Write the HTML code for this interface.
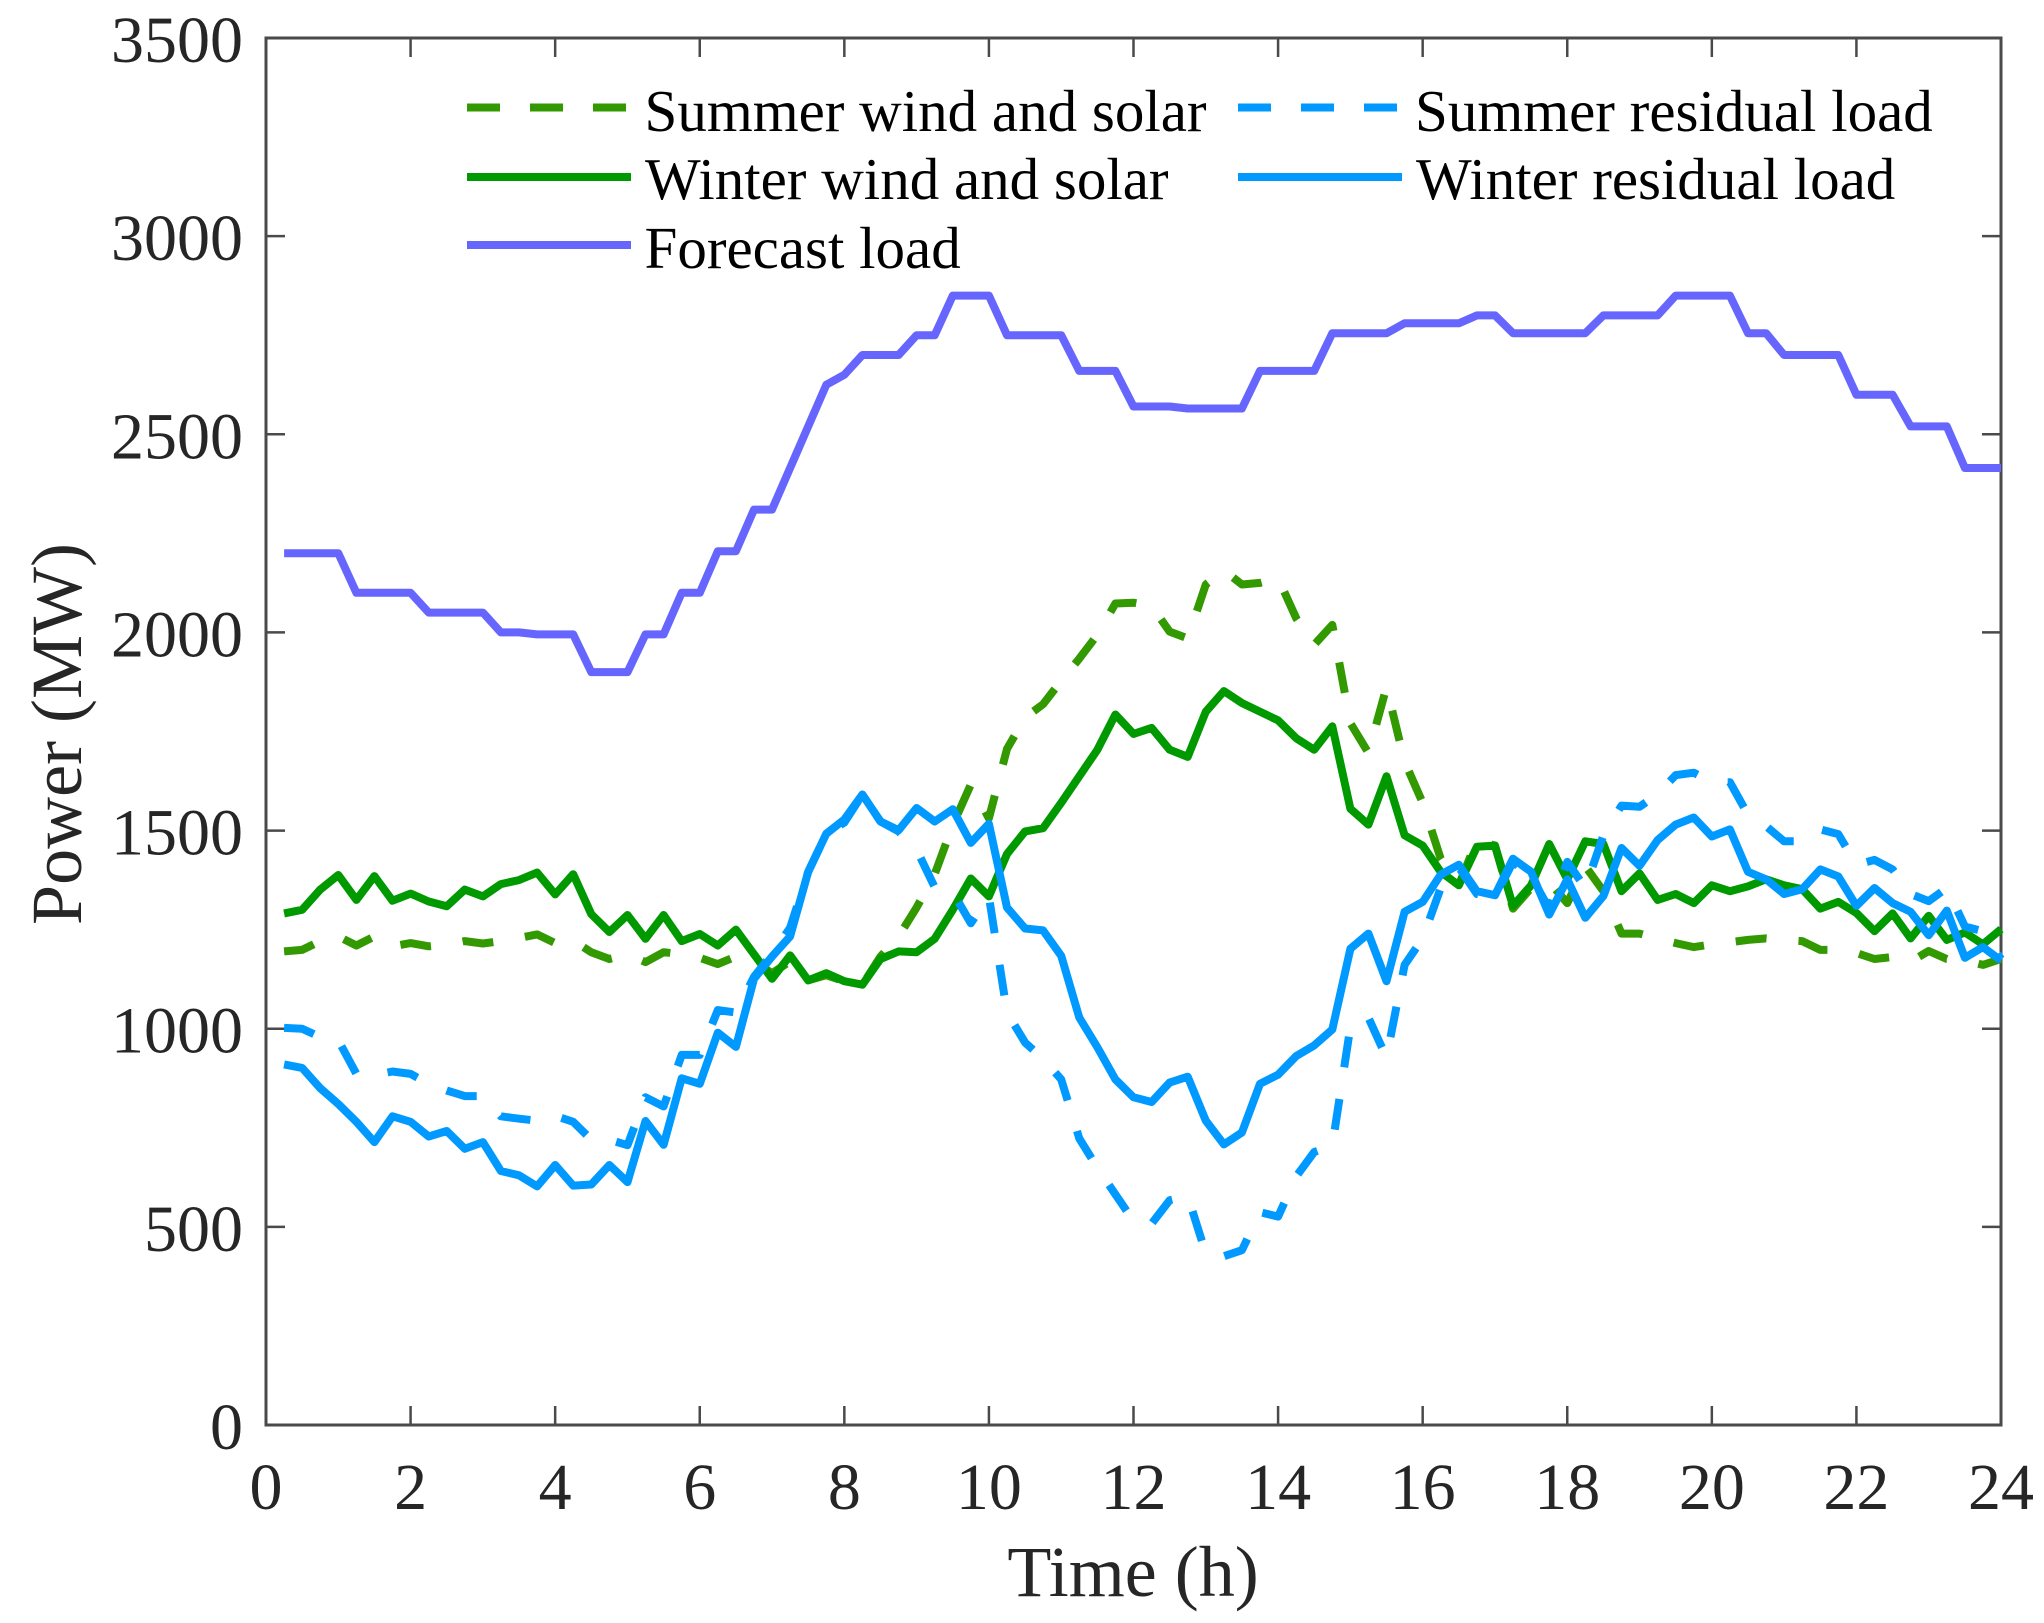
<!DOCTYPE html>
<html lang="en">
<head>
<meta charset="utf-8">
<title>Power vs Time</title>
<style>
html,body{margin:0;padding:0;background:#fff;}
svg{display:block;}
text{font-family:"Liberation Serif","Times New Roman",serif;}
.tick-label{font-size:66px;fill:#262626;}
.axis-title{font-size:72px;fill:#262626;}
.legend-label{font-size:59px;fill:#000;}
.series{fill:none;stroke-width:8;stroke-linejoin:round;stroke-linecap:butt;}
</style>
</head>
<body>
<svg id="chart" xmlns="http://www.w3.org/2000/svg" width="2044" height="1623" viewBox="0 0 2044 1623">
  <rect x="0" y="0" width="2044" height="1623" fill="#ffffff"/>
  <g id="ticks"></g>
  <rect x="266" y="38" width="1735" height="1387" fill="none" stroke="#4a4a4a" stroke-width="3"/>
  <g id="marks"></g>
  <text class="axis-title" x="1133" y="1596" text-anchor="middle">Time (h)</text>
  <text class="axis-title" transform="translate(81,734) rotate(-90)" text-anchor="middle">Power (MW)</text>
  <g>
    <line x1="467" y1="107.5" x2="631" y2="107.5" stroke="#339900" stroke-width="8" stroke-dasharray="33 30"/>
    <text class="legend-label" x="644.5" y="131">Summer wind and solar</text>
    <line x1="467" y1="177" x2="631" y2="177" stroke="#009900" stroke-width="8"/>
    <text class="legend-label" x="645" y="199">Winter wind and solar</text>
    <line x1="467" y1="245" x2="631" y2="245" stroke="#6666ff" stroke-width="8"/>
    <text class="legend-label" x="644.5" y="268">Forecast load</text>
    <line x1="1238" y1="107.5" x2="1402" y2="107.5" stroke="#0099ff" stroke-width="8" stroke-dasharray="33 30"/>
    <text class="legend-label" x="1415" y="131">Summer residual load</text>
    <line x1="1238" y1="177" x2="1402" y2="177" stroke="#0099ff" stroke-width="8"/>
    <text class="legend-label" x="1416" y="199">Winter residual load</text>
  </g>
</svg>
<script>
const xTickLabels = [0,2,4,6,8,10,12,14,16,18,20,22,24];
const yTickLabels = [0,500,1000,1500,2000,2500,3000,3500];
const timeHours = [
  0.25,0.5,0.75,1, 1.25,1.5,1.75,2, 2.25,2.5,2.75,3, 3.25,3.5,3.75,4,
  4.25,4.5,4.75,5, 5.25,5.5,5.75,6, 6.25,6.5,6.75,7, 7.25,7.5,7.75,8,
  8.25,8.5,8.75,9, 9.25,9.5,9.75,10, 10.25,10.5,10.75,11, 11.25,11.5,11.75,12,
  12.25,12.5,12.75,13, 13.25,13.5,13.75,14, 14.25,14.5,14.75,15, 15.25,15.5,15.75,16,
  16.25,16.5,16.75,17, 17.25,17.5,17.75,18, 18.25,18.5,18.75,19, 19.25,19.5,19.75,20,
  20.25,20.5,20.75,21, 21.25,21.5,21.75,22, 22.25,22.5,22.75,23, 23.25,23.5,23.75,24
];
const summerWindSolar = [
  1195,1199,1221,1233, 1210,1233,1208,1216, 1208,1212,1221,1215, 1221,1229,1238,1216,
  1222,1193,1176,1187, 1168,1193,1188,1179, 1163,1182,1170,1140, 1170,1122,1135,1120,
  1111,1182,1233,1306, 1390,1514,1616,1531, 1706,1785,1819,1878, 1934,1994,2073,2075,
  2067,2002,1985,2121, 2157,2121,2125,2137, 2036,1969,2019,1771, 1696,1862,1674,1570,
  1429,1362,1476,1462, 1303,1355,1370,1317, 1410,1347,1240,1240, 1228,1216,1206,1213,
  1218,1224,1228,1224, 1221,1199,1199,1191, 1176,1181,1169,1196, 1176,1173,1161,1176
];
const winterWindSolar = [
  1291,1300,1351,1388, 1325,1385,1323,1341, 1321,1309,1351,1334, 1365,1375,1394,1339,
  1390,1289,1244,1287, 1227,1287,1221,1239, 1210,1250,1188,1126, 1185,1122,1140,1120,
  1111,1176,1195,1193, 1227,1300,1379,1334, 1441,1498,1506,1570, 1637,1704,1793,1744,
  1759,1704,1686,1800, 1852,1822,1800,1778, 1733,1704,1763,1555, 1515,1637,1488,1462,
  1396,1362,1459,1462, 1310,1362,1466,1377, 1473,1466,1347,1392, 1325,1340,1317,1362,
  1347,1359,1377,1362, 1352,1303,1320,1292, 1246,1291,1228,1285, 1224,1243,1213,1251
];
const summerResidualLoad = [
  1002,1000,979,971, 886,883,892,886, 861,844,830,830, 779,773,768,780,
  765,720,720,706, 827,804,934,934, 1047,1041,1131,1188, 1255,1396,1492,1520,
  1591,1523,1498,1452, 1357,1345,1266,1334, 1041,965,924,872, 723,649,582,515,
  508,567,578,433, 426,441,537,526, 627,689,705,1005, 1028,927,1161,1228,
  1355,1407,1340,1332, 1421,1384,1303,1421, 1355,1488,1563,1560, 1592,1640,1646,1622,
  1622,1540,1511,1473, 1473,1503,1491,1414, 1426,1402,1340,1322, 1355,1258,1246,1176
];
const winterResidualLoad = [
  910,901,850,810, 765,714,779,765, 728,742,697,714, 641,630,602,656,
  604,607,656,613, 767,707,875,861, 990,954,1126,1182, 1233,1396,1492,1528,
  1591,1523,1501,1557, 1523,1554,1469,1517, 1306,1253,1248,1184, 1028,953,872,827,
  815,864,879,768, 708,738,861,884, 931,958,998,1202, 1240,1120,1295,1320,
  1389,1414,1347,1337, 1429,1396,1288,1377, 1280,1335,1456,1411, 1476,1515,1533,1485,
  1503,1396,1377,1340, 1352,1402,1384,1310, 1355,1317,1295,1236, 1298,1179,1206,1172
];
const forecastLoad = [
  2200,2200,2200,2200, 2100,2100,2100,2100, 2050,2050,2050,2050, 2000,2000,1995,1995,
  1995,1900,1900,1900, 1995,1995,2100,2100, 2205,2205,2310,2310, 2415,2520,2625,2650,
  2700,2700,2700,2750, 2750,2850,2850,2850, 2750,2750,2750,2750, 2660,2660,2660,2570,
  2570,2570,2565,2565, 2565,2565,2660,2660, 2660,2660,2755,2755, 2755,2755,2780,2780,
  2780,2780,2800,2800, 2755,2755,2755,2755, 2755,2800,2800,2800, 2800,2850,2850,2850,
  2850,2755,2755,2700, 2700,2700,2700,2600, 2600,2600,2520,2520, 2520,2415,2415,2415
];

const SVG_NS = 'http://www.w3.org/2000/svg';
const plotLeft = 266, plotRight = 2001, plotTop = 38, plotBottom = 1425;
const xMax = 24, yMax = 3500, tickLength = 19;
function xScale(h) { return plotLeft + (h / xMax) * (plotRight - plotLeft); }
function yScale(v) { return plotBottom - (v / yMax) * (plotBottom - plotTop); }

const ticksGroup = document.getElementById('ticks');
const marksGroup = document.getElementById('marks');

function drawTick(x1, y1, x2, y2) {
  const t = document.createElementNS(SVG_NS, 'line');
  t.setAttribute('x1', x1);
  t.setAttribute('y1', y1);
  t.setAttribute('x2', x2);
  t.setAttribute('y2', y2);
  t.setAttribute('stroke', '#4a4a4a');
  t.setAttribute('stroke-width', '2.5');
  
  
  ticksGroup.appendChild(t);
}

xTickLabels.forEach(function (h) {
  const x = xScale(h);
  if (h > 0 && h < xMax) {
    drawTick(x, plotBottom, x, plotBottom - tickLength);
    drawTick(x, plotTop, x, plotTop + tickLength);
  }
  const label = document.createElementNS(SVG_NS, 'text');
  label.setAttribute('x', x);
  label.setAttribute('y', 1509);
  label.setAttribute('text-anchor', 'middle');
  label.setAttribute('class', 'tick-label');
  
  
  label.textContent = h;
  ticksGroup.appendChild(label);
});

yTickLabels.forEach(function (v) {
  const y = yScale(v);
  if (v > 0 && v < yMax) {
    drawTick(plotLeft, y, plotLeft + tickLength, y);
    drawTick(plotRight, y, plotRight - tickLength, y);
  }
  const label = document.createElementNS(SVG_NS, 'text');
  label.setAttribute('x', 243);
  label.setAttribute('y', y + 24);
  label.setAttribute('text-anchor', 'end');
  label.setAttribute('class', 'tick-label');
  
  
  label.textContent = v;
  ticksGroup.appendChild(label);
});

function drawSeries(values, color, dash, name) {
  const p = document.createElementNS(SVG_NS, 'polyline');
  const pts = values.map(function (v, i) {
    return xScale(timeHours[i]).toFixed(1) + ',' + yScale(v).toFixed(1);
  });
  p.setAttribute('points', pts.join(' '));
  p.setAttribute('class', 'series');
  p.setAttribute('stroke', color);
  if (dash) p.setAttribute('stroke-dasharray', dash);
  
  
  marksGroup.appendChild(p);
}

drawSeries(summerWindSolar, '#339900', '31 32', 'summer-wind-solar-line');
drawSeries(winterWindSolar, '#009900', null, 'winter-wind-solar-line');
drawSeries(summerResidualLoad, '#0099ff', '31 32', 'summer-residual-load-line');
drawSeries(winterResidualLoad, '#0099ff', null, 'winter-residual-load-line');
drawSeries(forecastLoad, '#6666ff', null, 'forecast-load-line');
</script>
</body>
</html>
